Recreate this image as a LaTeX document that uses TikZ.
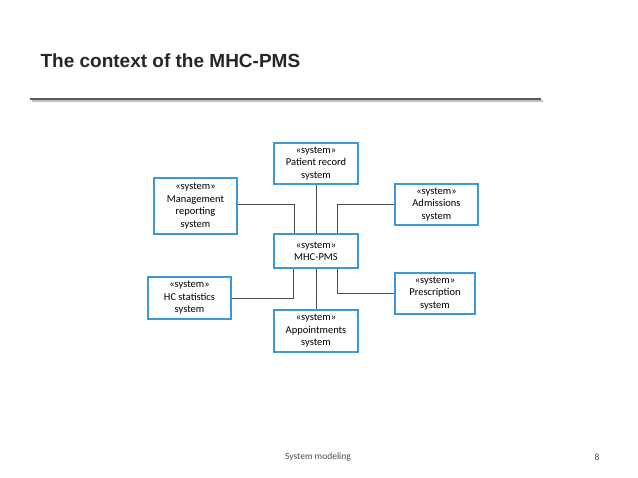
\documentclass[tikz,border=0pt]{standalone}
\usepackage{fontspec}
\setmainfont{Carlito}
\newfontfamily\titlefont{Liberation Sans}
\begin{document}
\begin{tikzpicture}[x=1pt,y=-1pt,
  sys/.style={draw=cyan!70!blue!80, line width=1.4pt, fill=white, align=center, inner sep=0pt, font=\fontsize{10.5}{12.5}\selectfont},
  con/.style={draw=black!70, line width=0.7pt}]
\useasboundingbox (0,0) rectangle (638,478);
\node[anchor=west,font=\titlefont\bfseries\fontsize{19}{22}\selectfont,text=black!85] (title) at (37,61) {The context of the MHC-PMS};
\draw[black!25,line width=2pt] (32,101) -- (543,101);
\draw[black!65,line width=2pt] (30,99) -- (541,99);
\coordinate (m1) at (294,204); \coordinate (a1) at (337,204);
\coordinate (h1) at (293,298); \coordinate (p1) at (337,293);
\draw[con] (237,204) -- (m1) -- (294,234);
\draw[con] (395,204) -- (a1) -- (337,234);
\draw[con] (231,298) -- (h1) -- (293,268);
\draw[con] (395,293) -- (p1) -- (337,268);
\draw[con] (316,184) -- (316,234);
\draw[con] (316,268) -- (316,310);
\node[sys,minimum width=84,minimum height=41] (pr) at (316,163.5) {«system»\\Patient record\\system};
\node[sys,minimum width=83,minimum height=56] (mg) at (195.5,206) {«system»\\Management\\reporting\\system};
\node[sys,minimum width=83,minimum height=41] (ad) at (436.5,204.5) {«system»\\Admissions\\system};
\node[sys,minimum width=84,minimum height=34] (mhc) at (316,251) {«system»\\MHC-PMS};
\node[sys,minimum width=83,minimum height=42] (hc) at (189.5,298) {«system»\\HC statistics\\system};
\node[sys,minimum width=80,minimum height=41] (ps) at (435,293.5) {«system»\\Prescription\\system};
\node[sys,minimum width=84,minimum height=42] (ap) at (316,331) {«system»\\Appointments\\system};
\node[font=\fontsize{9.5}{11}\selectfont,text=black!70] (ft) at (318,457) {System modeling};
\node[font=\fontsize{9.5}{11}\selectfont,text=black!70] (pg) at (597,457) {8};
\end{tikzpicture}
\end{document}
